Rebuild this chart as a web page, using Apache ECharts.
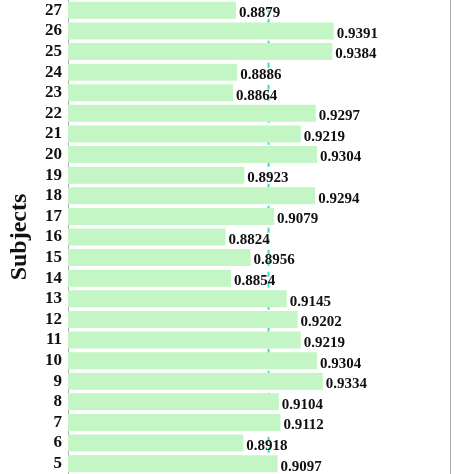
<!DOCTYPE html>
<html><head><meta charset="utf-8">
<script src="https://cdn.jsdelivr.net/npm/echarts@6/dist/echarts.min.js"></script>
<style>html,body{margin:0;padding:0;background:#fff}#c{width:474px;height:474px}</style>
</head><body><div id="c"></div>
<script>
var subjects = ['5','6','7','8','9','10','11','12','13','14','15','16','17','18','19','20','21','22','23','24','25','26','27'];
var accuracy = [0.9097, 0.8918, 0.9112, 0.9104, 0.9334, 0.9304, 0.9219, 0.9202, 0.9145, 0.8854, 0.8956, 0.8824, 0.9079, 0.9294, 0.8923, 0.9304, 0.9219, 0.9297, 0.8864, 0.8886, 0.9384, 0.9391, 0.8879];
var meanLine = 0.905;

var font = 'Liberation Serif';
var chart = echarts.init(document.getElementById('c'));
chart.setOption({
  animation: false,
  grid: {left: 66, right: 24, top: -2.4, bottom: -3.4},
  xAxis: {type: 'value', min: 0.8, max: 1.0, show: false},
  yAxis: [{
    type: 'category', data: subjects,
    name: 'Subjects', nameLocation: 'middle', nameGap: 36,
    nameTextStyle: {fontFamily: font, fontWeight: 'bold', fontSize: 24, color: '#111'},
    axisLine: {lineStyle: {color: '#aaa'}},
    axisTick: {inside: true, alignWithLabel: true, length: 5, lineStyle: {color: '#888'}},
    axisLabel: {interval: 0, fontFamily: font, fontWeight: 'bold', fontSize: 17, color: '#111', margin: 6}
  }, {
    type: 'category', data: subjects, position: 'right',
    axisLine: {lineStyle: {color: '#aaa'}},
    axisTick: {inside: true, alignWithLabel: true, interval: 0, length: 6, lineStyle: {color: '#888'}},
    axisLabel: {show: false}
  }],
  series: [{
    type: 'line', z: 1, symbol: 'none', silent: true,
    data: subjects.map(function (s) { return [meanLine, s]; }),
    lineStyle: {color: '#3fd9c8', type: [5, 6], width: 2}
  }, {
    type: 'bar', data: accuracy, barWidth: 17, z: 3,
    itemStyle: {color: '#c4f5c4'},
    label: {show: true, position: 'right', distance: 3, formatter: function (p) { return p.value.toFixed(4); },
      fontFamily: font, fontWeight: 'bold', fontSize: 15, color: '#111', offset: [0, 3]}
  }]
});
</script></body></html>
